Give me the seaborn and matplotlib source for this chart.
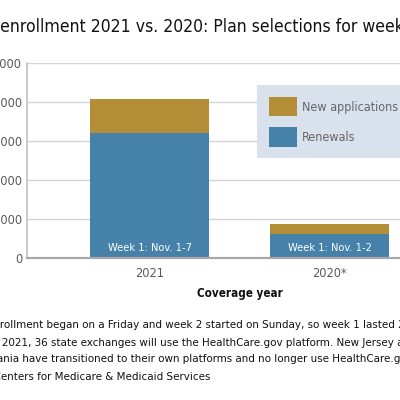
import matplotlib
matplotlib.use("Agg")
import matplotlib.pyplot as plt
import seaborn as sns
import pandas as pd
from matplotlib.patches import Patch
import matplotlib.transforms as mtransforms

years = ["2021", "2020*"]
renewals = [644000, 127000]
new_apps = [173000, 50000]
week_labels = ["Week 1: Nov. 1-7", "Week 1: Nov. 1-2"]
yticks = [0, 200000, 400000, 600000, 800000, 1000000]

title = "Open enrollment 2021 vs. 2020: Plan selections for week 1"
notes = [
    "*Open enrollment began on a Friday and week 2 started on Sunday, so week 1 lasted 2 days.",
    "Note: For 2021, 36 state exchanges will use the HealthCare.gov platform. New Jersey and",
    "Pennsylvania have transitioned to their own platforms and no longer use HealthCare.gov.",
    "Source: Centers for Medicare & Medicaid Services",
]

GOLD = "#b38e36"
BLUE = "#4581a8"

sns.set_style("white")
plt.rcParams["font.family"] = ["DejaVu Sans"]
plt.rcParams["font.stretch"] = "condensed"

df = pd.DataFrame({
    "year": years,
    "renewals": renewals,
    "total": [r + n for r, n in zip(renewals, new_apps)],
})

fig = plt.figure(figsize=(4, 4), dpi=100)
ax = fig.add_axes([27 / 400, 141.7 / 400, 425 / 400, 195 / 400])

sns.barplot(data=df, x="year", y="total", color=GOLD, saturation=1, width=0.66,
            linewidth=0, edgecolor="none", ax=ax)
sns.barplot(data=df, x="year", y="renewals", color=BLUE, saturation=1, width=0.66,
            linewidth=0, edgecolor="none", ax=ax)

ax.set_xlim(-0.68, 1.68)
ax.set_ylim(0, 1000000)
ax.set_yticks(yticks)
ax.set_yticklabels([f"{v:,}" for v in yticks])
ax.yaxis.grid(True, color="#d4d4d4", lw=1)
ax.set_axisbelow(True)
for s in ["top", "right"]:
    ax.spines[s].set_visible(False)
ax.spines["left"].set_color("#c0c0c0")
ax.spines["left"].set_linewidth(1.2)
ax.spines["bottom"].set_color("#a8a8a8")
ax.spines["bottom"].set_linewidth(1.6)
ax.tick_params(axis="both", length=0, labelsize=9.2, labelcolor="#5a5a5a")
ax.tick_params(axis="y", pad=3.6)
ax.tick_params(axis="x", pad=6)
ax.set_ylabel("")
ax.set_xlabel("Coverage year", fontsize=8.4, fontweight="bold", color="#111111", labelpad=5)

trans = mtransforms.blended_transform_factory(ax.transData, ax.transAxes)
for i, lab in enumerate(week_labels):
    ax.text(i, 0.055, lab, transform=trans, ha="center", va="center",
            color="white", fontsize=7.9)

handles = [Patch(facecolor=GOLD, edgecolor="none"), Patch(facecolor=BLUE, edgecolor="none")]
leg = ax.legend(handles, ["New applications", "Renewals"], loc="upper left",
                bbox_to_anchor=(257 / 400, 315 / 400), bbox_transform=fig.transFigure,
                frameon=True, facecolor="#d9e1ec", edgecolor="none", framealpha=1,
                fancybox=False, fontsize=9, borderpad=0.95, handlelength=2.24,
                handleheight=2.0, labelspacing=0.88, handletextpad=0.4, borderaxespad=0)
for t in leg.get_texts():
    t.set_color("#666666")

renderer = fig.canvas.get_renderer()


def prefix_width(s, size, weight="normal"):
    t = fig.text(0, 0, s, fontsize=size, fontweight=weight)
    w = t.get_window_extent(renderer).width
    t.remove()
    return w

TITLE_SIZE = 12.6
off = prefix_width("Open ", TITLE_SIZE)
fig.text(-off / 400, 1 - 27 / 400, title, ha="left", va="center",
         fontsize=TITLE_SIZE, color="#111111")

NOTE_SIZE = 8.25
off = prefix_width("*Open en", NOTE_SIZE)
ys = [325, 343, 359, 377]
for y, n in zip(ys, notes):
    fig.text(-off / 400, 1 - y / 400, n, ha="left", va="center",
             fontsize=NOTE_SIZE, color="#111111")

fig.savefig("out.png", dpi=100)
